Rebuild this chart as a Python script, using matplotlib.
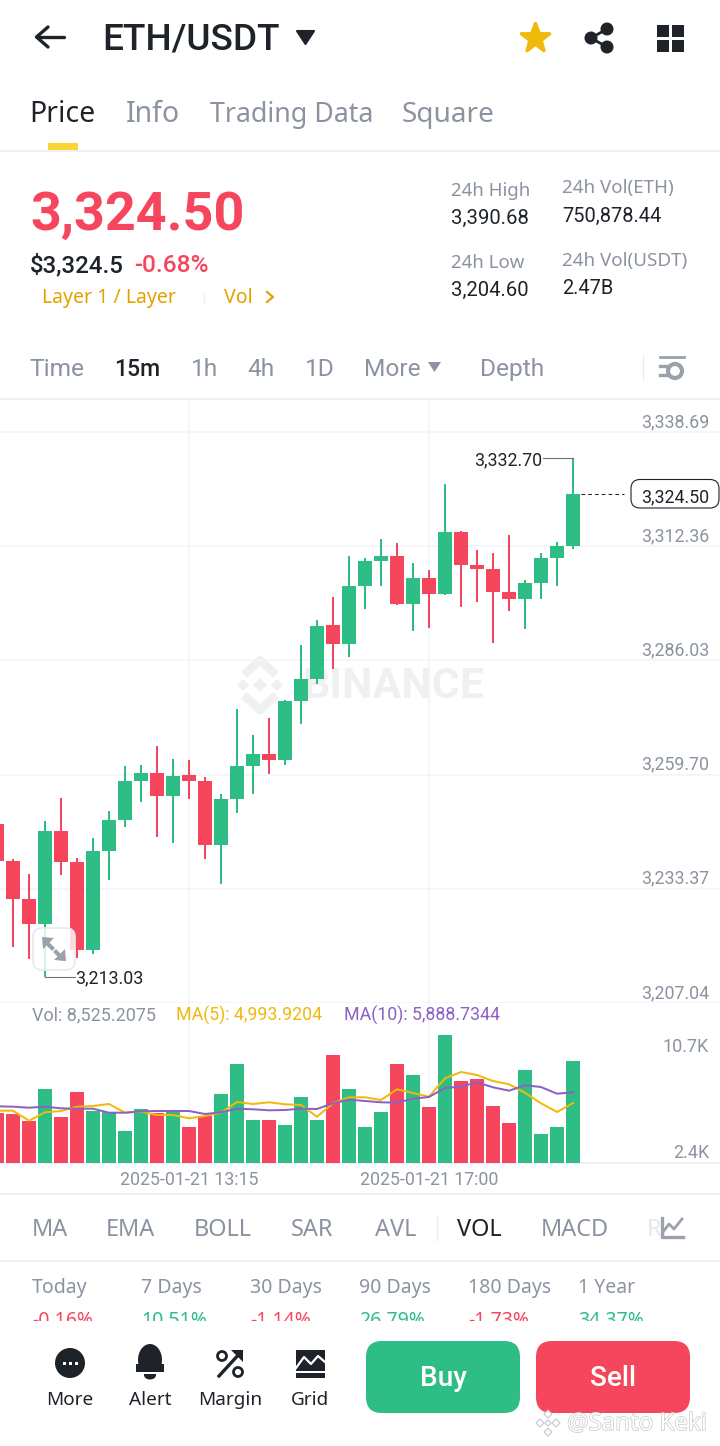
import matplotlib
matplotlib.use("Agg")
import matplotlib.pyplot as plt
import matplotlib.patheffects as pe
from matplotlib.patches import Circle, Ellipse, FancyBboxPatch, Polygon, Rectangle

# candles, oldest first
opens = [3248.31, 3239.78, 3230.94, 3225.18, 3246.76, 3239.48, 3219.25, 3242.01, 3249.23, 3258.29,
         3260.14, 3254.76, 3259.54, 3258.22, 3243.40, 3254.14, 3261.68, 3264.45, 3263.06, 3276.67,
         3281.67, 3294.12, 3289.74, 3303.18, 3308.88, 3310.17, 3299.03, 3305.10, 3301.41, 3315.63,
         3308.02, 3307.17, 3301.80, 3300.12, 3303.87, 3309.71, 3312.47]
closes = [3239.85, 3230.94, 3225.18, 3246.76, 3239.48, 3219.25, 3242.01, 3249.23, 3258.22, 3260.14,
          3254.76, 3259.44, 3258.29, 3243.40, 3254.07, 3261.68, 3264.45, 3263.06, 3276.67, 3281.67,
          3294.03, 3289.74, 3303.18, 3308.88, 3310.17, 3299.03, 3305.10, 3301.41, 3315.63, 3308.02,
          3307.17, 3301.80, 3300.12, 3303.87, 3309.71, 3312.41, 3324.50]
highs = [3248.31, 3240.24, 3236.78, 3249.07, 3254.23, 3240.40, 3245.01, 3251.37, 3261.68, 3261.91,
         3266.29, 3263.29, 3263.06, 3259.21, 3255.15, 3274.89, 3268.83, 3272.68, 3276.90, 3289.58,
         3295.34, 3300.58, 3310.10, 3309.57, 3314.02, 3313.03, 3308.42, 3306.87, 3326.77, 3315.86,
         3311.48, 3310.86, 3315.01, 3304.57, 3310.86, 3313.26, 3332.70]
lows = [3239.85, 3220.02, 3217.11, 3213.03, 3236.55, 3217.48, 3218.26, 3235.39, 3247.55, 3253.38,
        3245.38, 3244.00, 3254.07, 3240.31, 3234.54, 3250.91, 3255.29, 3259.77, 3261.98, 3271.36,
        3280.59, 3284.11, 3286.81, 3297.95, 3303.25, 3298.73, 3292.74, 3293.57, 3301.18, 3298.34,
        3299.56, 3290.04, 3297.42, 3293.20, 3300.12, 3303.11, 3311.71]

# volume panel
volumes = [4142, 4083, 3500, 6192, 3833, 5892, 4333, 4250, 2642, 4475, 4142, 4333, 2975, 3942, 5750,
           8275, 3583, 3583, 3142, 5475, 3583, 9000, 6167, 2975, 4250, 8225, 7308, 4642, 10667, 6808,
           7000, 4750, 3358, 7725, 2417, 2975, 8525]
ma5 = [4358, 4358, 3525, 4225, 4333, 4692, 4750, 4917, 4192, 4275, 4000, 4000, 3725, 3917, 4192,
       5083, 4917, 5058, 4892, 4833, 3858, 4975, 5475, 5475, 5250, 6142, 5833, 5525, 7058, 7583,
       7333, 6833, 6558, 5858, 4975, 4250, 4994]
ma10 = [4725, 4692, 4608, 4692, 4558, 4525, 4525, 4192, 4192, 4308, 4333, 4333, 4333, 4083, 4225,
        4525, 4475, 4392, 4417, 4525, 4500, 4975, 5275, 5167, 5058, 5025, 5358, 5500, 6250, 6358,
        6725, 6308, 6025, 6475, 6333, 5775, 5889]

price_ticks = [3338.69, 3312.36, 3286.03, 3259.70, 3233.37, 3207.04]
date_ticks = [12, 27]
date_labels = ["2025-01-21 13:15", "2025-01-21 17:00"]

period_names = ["Today", "7 Days", "30 Days", "90 Days", "180 Days", "1 Year"]
period_values = ["-0.16%", "10.51%", "-1.14%", "26.79%", "-1.73%", "34.37%"]

GREEN = "#2EBD85"
RED = "#F6465D"
DARK = "#1E2329"
GREY = "#8B93A1"
YELLOW = "#F0B90B"
PURPLE = "#8B62C4"
GRID = "#F3F4F6"
LINE = "#EAECEF"
ORANGE = "#E2A200"

W, H = 720, 1446
fig = plt.figure(figsize=(W / 100, H / 100), dpi=100, facecolor="white")


def full_overlay(z):
    a = fig.add_axes([0, 0, 1, 1], zorder=z)
    a.set_xlim(0, W)
    a.set_ylim(H, 0)
    a.axis("off")
    return a


back = full_overlay(0)
ui = full_overlay(5)


def label(x, y, s, px, color=GREY, ha="left", weight="normal", family="Noto Sans", a=None, **kw):
    a = a or ui
    # centred text sits about 2px high at these sizes
    return a.text(x, y + 2, s, fontsize=px * 0.72, color=color, ha=ha, va="center",
                  fontweight=weight, family=family, **kw)


def hline(y, color=LINE, lw=1.5):
    ui.plot([0, W], [y, y], color=color, lw=lw * 0.72, solid_capstyle="butt")


# price panel
ax = fig.add_axes([0, (H - 1003) / H, 1, (1003 - 399) / H], zorder=1)
ax.patch.set_alpha(0)
ax.set_xlim(0.1875, 45.1875)
ax.set_ylim(3207.04, 3346.30)
ax.set_xticks(date_ticks)
ax.set_yticks(price_ticks)
ax.grid(True, color=GRID, lw=1.5 * 0.72)
ax.set_axisbelow(True)
ax.tick_params(length=0, labelbottom=False, labelleft=False)
for s in ax.spines.values():
    s.set_visible(False)

idx = list(range(len(opens)))
colors = [GREEN if c >= o else RED for o, c in zip(opens, closes)]
ax.vlines(idx, lows, highs, colors=colors, lw=2 * 0.72, zorder=2)
ax.bar(idx, [abs(c - o) for o, c in zip(opens, closes)], bottom=[min(o, c) for o, c in zip(opens, closes)],
       width=14 / 16, color=colors, zorder=3)

for t in price_ticks:
    ax.annotate(f"{t:,.2f}", xy=(1, t), xycoords=ax.get_yaxis_transform(), xytext=(-11 * 0.72, 10 * 0.72),
                textcoords="offset points", ha="right", va="center", fontsize=17.8 * 0.72, color=GREY,
                family="Roboto", annotation_clip=False)

# high, low and last price markers
hi = highs.index(max(highs))
ax.plot([hi - 30 / 16, hi], [highs[hi], highs[hi]], color="#6B7280", lw=0.8, zorder=2)
ax.annotate(f"{highs[hi]:,.2f}", xy=(hi, highs[hi]), xytext=(-31 * 0.72, -1.5), textcoords="offset points",
            ha="right", va="center", fontsize=17.8 * 0.72, color=DARK, family="Roboto")
lo = lows.index(min(lows))
ax.plot([lo, lo + 30 / 16], [lows[lo], lows[lo]], color="#6B7280", lw=0.8, zorder=2)
ax.annotate(f"{lows[lo]:,.2f}", xy=(lo, lows[lo]), xytext=(30 * 0.72, -1), textcoords="offset points",
            ha="left", va="center", fontsize=17.8 * 0.72, color=DARK, family="Roboto")
ax.plot([idx[-1] + 0.5, 39.2], [closes[-1], closes[-1]], color=DARK, lw=0.75, ls=(0, (3.5, 3)), zorder=2)
ui.add_patch(FancyBboxPatch((631, 479.5), 88, 28.5, boxstyle="round,pad=0,rounding_size=9",
                            fc="white", ec=DARK, lw=0.8))
label(709, 495, f"{closes[-1]:,.2f}", 17.8, DARK, ha="right", family="Roboto")

# volume panel
vx = fig.add_axes([0, (H - 1163) / H, 1, 160 / H], zorder=1)
vx.patch.set_alpha(0)
vx.set_xlim(0.1875, 45.1875)
vx.set_ylim(0, 13333)
vx.set_xticks(date_ticks)
vx.set_xticklabels(date_labels, fontsize=17.8 * 0.72, color=GREY, family="Roboto")
vx.set_yticks([])
vx.tick_params(length=0, pad=6)
vx.grid(True, axis="x", color=GRID, lw=1.5 * 0.72)
vx.set_axisbelow(True)
for s in vx.spines.values():
    s.set_visible(False)
vx.axhline(0, color=LINE, lw=1.5 * 0.72, clip_on=False)
vx.bar(idx, volumes, width=14 / 16, color=colors, zorder=2)
vx.plot(idx, ma5, color=YELLOW, lw=2 * 0.72, zorder=3)
vx.plot(idx, ma10, color=PURPLE, lw=2 * 0.72, zorder=4)

label(32, 1013, "Vol: 8,525.2075", 18, GREY, family="Roboto")
label(176, 1013, "MA(5): 4,993.9204", 17.8, YELLOW, family="Roboto")
label(344, 1013, "MA(10): 5,888.7344", 17.8, PURPLE, family="Roboto")
label(709, 1045, "10.7K", 18, GREY, ha="right", family="Roboto")
label(709, 1151, "2.4K", 18, GREY, ha="right", family="Roboto")

# watermark under the candles
label(302, 685, "BINANCE", 43, "#EEF0F2", weight="bold", family="Roboto", a=back)
for cx, cy, r in [(260, 685, 7), (243, 685, 6), (277, 685, 6)]:
    back.add_patch(Polygon([(cx - r, cy), (cx, cy - r), (cx + r, cy), (cx, cy + r)], fc="#EEF0F2", ec="none"))
back.plot([247, 260, 273], [672, 660, 672], color="#EEF0F2", lw=6)
back.plot([247, 260, 273], [698, 710, 698], color="#EEF0F2", lw=6)

# expand button over the chart
ui.add_patch(FancyBboxPatch((33, 928), 42, 42, boxstyle="round,pad=0,rounding_size=9",
                            fc=(1, 1, 1, 0.8), ec="#E8EAED", lw=1.2))
ui.plot([46, 52], [942, 948], color="#9AA1AC", lw=3)
ui.plot([56, 62], [952, 958], color="#9AA1AC", lw=3)
ui.add_patch(Polygon([(42, 937), (54, 938), (43, 949)], fc="#9AA1AC"))
ui.add_patch(Polygon([(66, 961), (54, 960), (65, 949)], fc="#9AA1AC"))

# header
ui.plot([37, 64], [37, 37], color=DARK, lw=2.4, solid_capstyle="round")
ui.plot([48, 36.5, 48], [27, 37, 47], color=DARK, lw=2.4, solid_capstyle="round", solid_joinstyle="round")
label(102, 38, "ETH/USDT", 37, DARK, weight="medium", family="Roboto")
ui.add_patch(Polygon([(297, 31), (314, 31), (305.5, 44)], fc=DARK, ec=DARK, lw=1.5, joinstyle="round"))
ui.plot(535, 38, marker="*", ms=23, color=YELLOW, mec=YELLOW, mew=2, mfc=YELLOW)
for cx, cy in [(607, 29), (591, 38), (607, 47)]:
    ui.add_patch(Circle((cx, cy), 6.5, fc=DARK))
ui.plot([607, 591, 607], [29, 38, 47], color=DARK, lw=2)
for cx, cy in [(657, 25), (672, 25), (657, 40), (672, 40)]:
    ui.add_patch(Rectangle((cx, cy), 11.5, 11.5, fc=DARK))

label(29.5, 113, "Price", 28.5, DARK, weight="medium")
label(126, 113, "Info", 28.5, GREY, weight="medium")
label(210, 113, "Trading Data", 26.8, GREY, weight="medium")
label(402, 113, "Square", 28, GREY, weight="medium")
ui.add_patch(Rectangle((48, 143), 30, 7, fc="#FCD535"))
hline(150.5)

label(30, 213, "3,324.50", 54, RED, weight="bold", family="Roboto")
label(30, 264, "$3,324.5", 24, DARK, weight="medium", family="Roboto")
label(134, 264, "-0.68%", 24.5, RED, weight="medium", family="Roboto")
label(42, 296, "Layer 1 / Layer", 19.5, ORANGE)
ui.plot([204, 204], [293, 302], color=LINE, lw=1)
label(224, 296, "Vol", 19.5, ORANGE)
ui.plot([267, 273, 267], [292, 297, 302], color=ORANGE, lw=1.6)

label(451, 189, "24h High", 18.6)
label(451, 216, "3,390.68", 20.3, DARK, family="Roboto")
label(562, 186, "24h Vol(ETH)", 18.8)
label(562, 214, "750,878.44", 20, DARK, family="Roboto")
label(451, 261, "24h Low", 18.6)
label(451, 288, "3,204.60", 20.3, DARK, family="Roboto")
label(562, 259, "24h Vol(USDT)", 18.8)
label(562, 286, "2.47B", 20, DARK, family="Roboto")

# interval row
for x, s, c, w, px in [(29, "Time", GREY, "normal", 24.5), (114, "15m", DARK, "medium", 23), (191, "1h", GREY, "normal", 24.5),
                       (247, "4h", GREY, "normal", 24.5), (305, "1D", GREY, "normal", 24.5), (364, "More", GREY, "normal", 24.5),
                       (480, "Depth", GREY, "normal", 24.5)]:
    label(x, 367.5, s, px, c, weight=w, family="Roboto")
ui.add_patch(Polygon([(428, 362), (441, 362), (434.5, 372)], fc=GREY))
ui.plot([642.5, 642.5], [355, 380], color=LINE, lw=1)
ui.plot([660, 684], [357, 357], color="#9AA1AC", lw=2)
ui.plot([660, 667], [366, 366], color="#9AA1AC", lw=2.4)
ui.plot([660, 667], [375, 375], color="#9AA1AC", lw=2.4)
ui.add_patch(Circle((675, 371), 7, fc="white", ec="#9AA1AC", lw=3))
hline(398.5)

# indicator row
hline(1193.5)
for x, s, c, w in [(32, "MA", GREY, "normal"), (106, "EMA", GREY, "normal"), (194, "BOLL", GREY, "normal"),
                   (291, "SAR", GREY, "normal"), (375, "AVL", GREY, "normal"), (457, "VOL", DARK, "medium"),
                   (541, "MACD", GREY, "normal")]:
    label(x, 1228, s, 23.5, c, weight=w)
label(647, 1228, "R", 23.5, "#E6E8EC")
ui.plot([436.5, 436.5], [1216, 1240], color=LINE, lw=1)
ui.plot([662, 662, 683], [1218, 1237, 1237], color="#9AA1AC", lw=2.4)
ui.plot([663, 669, 674, 682], [1232, 1224, 1229, 1219], color="#9AA1AC", lw=2)
hline(1260.5)

# period row, values cut off by the bottom bar
period_x = [32, 141, 250, 359, 468, 578]
for x, n, v in zip(period_x, period_names, period_values):
    label(x, 1286, n, 19.5)
    label(x, 1319, v, 19.5, RED if v.startswith("-") else GREEN)
ui.add_patch(Rectangle((0, 1321), W, H - 1321, fc="white", ec="none", zorder=3))

# bottom bar
for cx, s in [(70, "More"), (150, "Alert"), (230, "Margin"), (310, "Grid")]:
    label(cx, 1398, s, 19, DARK, ha="center", zorder=4)
ui.add_patch(Circle((70, 1363), 15, fc=DARK, zorder=4))
for dx in [-6, 0, 6]:
    ui.add_patch(Rectangle((70 + dx - 1.5, 1361.5), 3, 3, fc="white", zorder=5))
ui.add_patch(Ellipse((150, 1360), 24, 32, fc=DARK, zorder=4))
ui.add_patch(Rectangle((136, 1364), 28, 8, fc=DARK, zorder=4))
ui.add_patch(Ellipse((150, 1375), 12, 9, fc=DARK, zorder=4))
ui.add_patch(Rectangle((136, 1372), 28, 1.5, fc="white", zorder=5))
ui.plot([219, 241], [1376, 1352], color=DARK, lw=2.4, zorder=4)
ui.add_patch(Polygon([(231, 1350), (243, 1350), (243, 1362)], fc=DARK, zorder=4))
ui.add_patch(Circle((222, 1356), 4.5, fc="white", ec=DARK, lw=2, zorder=4))
ui.add_patch(Circle((238, 1372), 4.5, fc="white", ec=DARK, lw=2, zorder=4))
ui.add_patch(Rectangle((296, 1350), 29, 21, fc=DARK, zorder=4))
ui.plot([296, 304, 311, 318, 325], [1368, 1357, 1364, 1356, 1362], color="white", lw=1.6, zorder=5)
ui.add_patch(Rectangle((296, 1373), 29, 5, fc=DARK, zorder=4))

ui.add_patch(FancyBboxPatch((366, 1341), 154, 72, boxstyle="round,pad=0,rounding_size=16", fc=GREEN, ec="none", zorder=4))
ui.add_patch(FancyBboxPatch((536, 1341), 154, 72, boxstyle="round,pad=0,rounding_size=16", fc=RED, ec="none", zorder=4))
label(443, 1377, "Buy", 28, "white", ha="center", weight="medium", family="Roboto", zorder=5)
label(613, 1377, "Sell", 28, "white", ha="center", weight="medium", family="Roboto", zorder=5)

# corner watermark
wm = label(567, 1422, "@Santo Keki", 24, "white", zorder=6)
wm.set_path_effects([pe.withStroke(linewidth=1, foreground="#C4C7CC")])
for cx, cy, r in [(548, 1414, 4), (540, 1423, 4), (556, 1423, 4), (548, 1423, 3), (548, 1432, 4)]:
    ui.add_patch(Polygon([(cx - r, cy), (cx, cy - r), (cx + r, cy), (cx, cy + r)], fc="white", ec="#C4C7CC", lw=0.8, zorder=6))

fig.savefig("out.png", dpi=100)
